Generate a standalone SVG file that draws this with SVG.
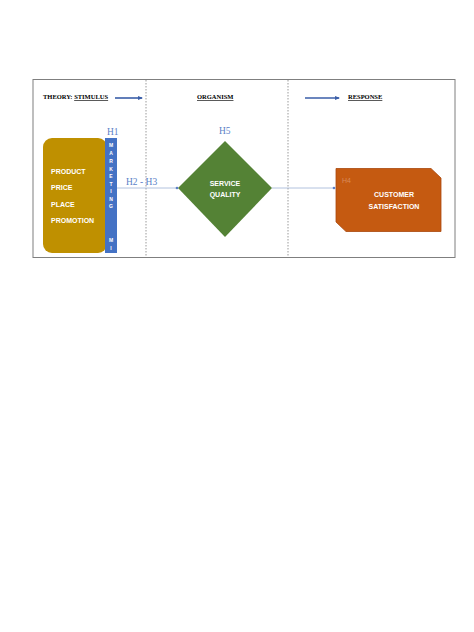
<svg xmlns="http://www.w3.org/2000/svg" width="474" height="632" viewBox="0 0 474 632">
<style>
.hdr{font-family:"Liberation Serif",serif;font-weight:bold;font-size:6.5px;fill:#000}
.hl{font-family:"Liberation Serif",serif;font-size:9.5px;fill:#5b7fc7}
.wt{font-family:"Liberation Sans",Arial,sans-serif;font-weight:bold;font-size:7px;fill:#fff}
.vt{font-family:"Liberation Sans",Arial,sans-serif;font-weight:bold;font-size:5px;fill:#fff;text-anchor:middle}
.div{stroke:#9a9a9a;stroke-width:1;stroke-dasharray:1.5,1.5}
.conn{stroke:#9fb3d6;stroke-width:0.8;fill:none}
.blue{stroke:#3a5ea8;stroke-width:1.6;fill:none}
</style>
<defs>
<marker id="dot" markerWidth="4" markerHeight="4" refX="2" refY="2" markerUnits="userSpaceOnUse">
<circle cx="2" cy="2" r="1.3" fill="#5b7fc7"/>
</marker>
<marker id="ah" markerWidth="5" markerHeight="5" refX="4" refY="2.5" orient="auto" markerUnits="userSpaceOnUse">
<path d="M0,0.5 L5,2.5 L0,4.5 Z" fill="#3a5ea8"/>
</marker>
</defs>
<rect width="474" height="632" fill="#fff"/>
<g id="frame">
<rect x="33" y="79.5" width="422" height="178" fill="none" stroke="#7f7f7f" stroke-width="1"/>
<line class="div" x1="146" y1="80" x2="146" y2="257"/>
<line class="div" x1="288" y1="80" x2="288" y2="257"/>
</g>
<g id="headers">
<text class="hdr" x="43" y="99">THEORY: <tspan text-decoration="underline">STIMULUS</tspan></text>
<text class="hdr" x="197" y="99" text-decoration="underline">ORGANISM</text>
<text class="hdr" x="348" y="99" text-decoration="underline">RESPONSE</text>
<line class="blue" x1="115" y1="98" x2="142" y2="98" marker-end="url(#ah)"/>
<line class="blue" x1="305" y1="98" x2="339" y2="98" marker-end="url(#ah)"/>
</g>
<g id="connectors">
<line class="conn" x1="117" y1="188" x2="177" y2="188" marker-end="url(#dot)"/>
<line class="conn" x1="272" y1="188" x2="334" y2="188" marker-end="url(#dot)"/>
<text class="hl" x="126" y="185">H2 - H3</text>
</g>
<g id="marketing-mix">
<rect x="43" y="138" width="64" height="115" rx="9" fill="#bf9000"/>
<text class="wt" x="51" y="174" font-size="7.4px">PRODUCT</text>
<text class="wt" x="51" y="190" font-size="7.4px">PRICE</text>
<text class="wt" x="51" y="206.5" font-size="7.4px">PLACE</text>
<text class="wt" x="51" y="222.5" font-size="7.4px">PROMOTION</text>
<rect x="105" y="138" width="12" height="115" fill="#4472c4"/>
<text class="vt" x="111" y="147">M</text>
<text class="vt" x="111" y="155">A</text>
<text class="vt" x="111" y="163">R</text>
<text class="vt" x="111" y="170.5">K</text>
<text class="vt" x="111" y="178">E</text>
<text class="vt" x="111" y="185.5">T</text>
<text class="vt" x="111" y="193">I</text>
<text class="vt" x="111" y="200.5">N</text>
<text class="vt" x="111" y="208">G</text>
<text class="vt" x="111" y="242">M</text>
<text class="vt" x="111" y="250">I</text>
<text class="hl" x="107" y="135">H1</text>
</g>
<g id="service-quality">
<polygon points="225,141 272,188 225,237 178,188" fill="#548235"/>
<text class="wt" x="225" y="186" text-anchor="middle">SERVICE</text>
<text class="wt" x="225" y="197" text-anchor="middle">QUALITY</text>
<text class="hl" x="219" y="134">H5</text>
</g>
<g id="customer-satisfaction">
<polygon points="336,168.5 431,168.5 441,178 441,231.5 346,231.5 336,222" fill="#c55a11" stroke="#a9470c" stroke-width="0.8"/>
<text x="342" y="183" font-family="Liberation Sans, Arial, sans-serif" font-size="7px" fill="#d88b5a">H4</text>
<text class="wt" x="394" y="197" text-anchor="middle" font-size="7.5px">CUSTOMER</text>
<text class="wt" x="394" y="208.5" text-anchor="middle" font-size="7.5px">SATISFACTION</text>
</g>
</svg>
